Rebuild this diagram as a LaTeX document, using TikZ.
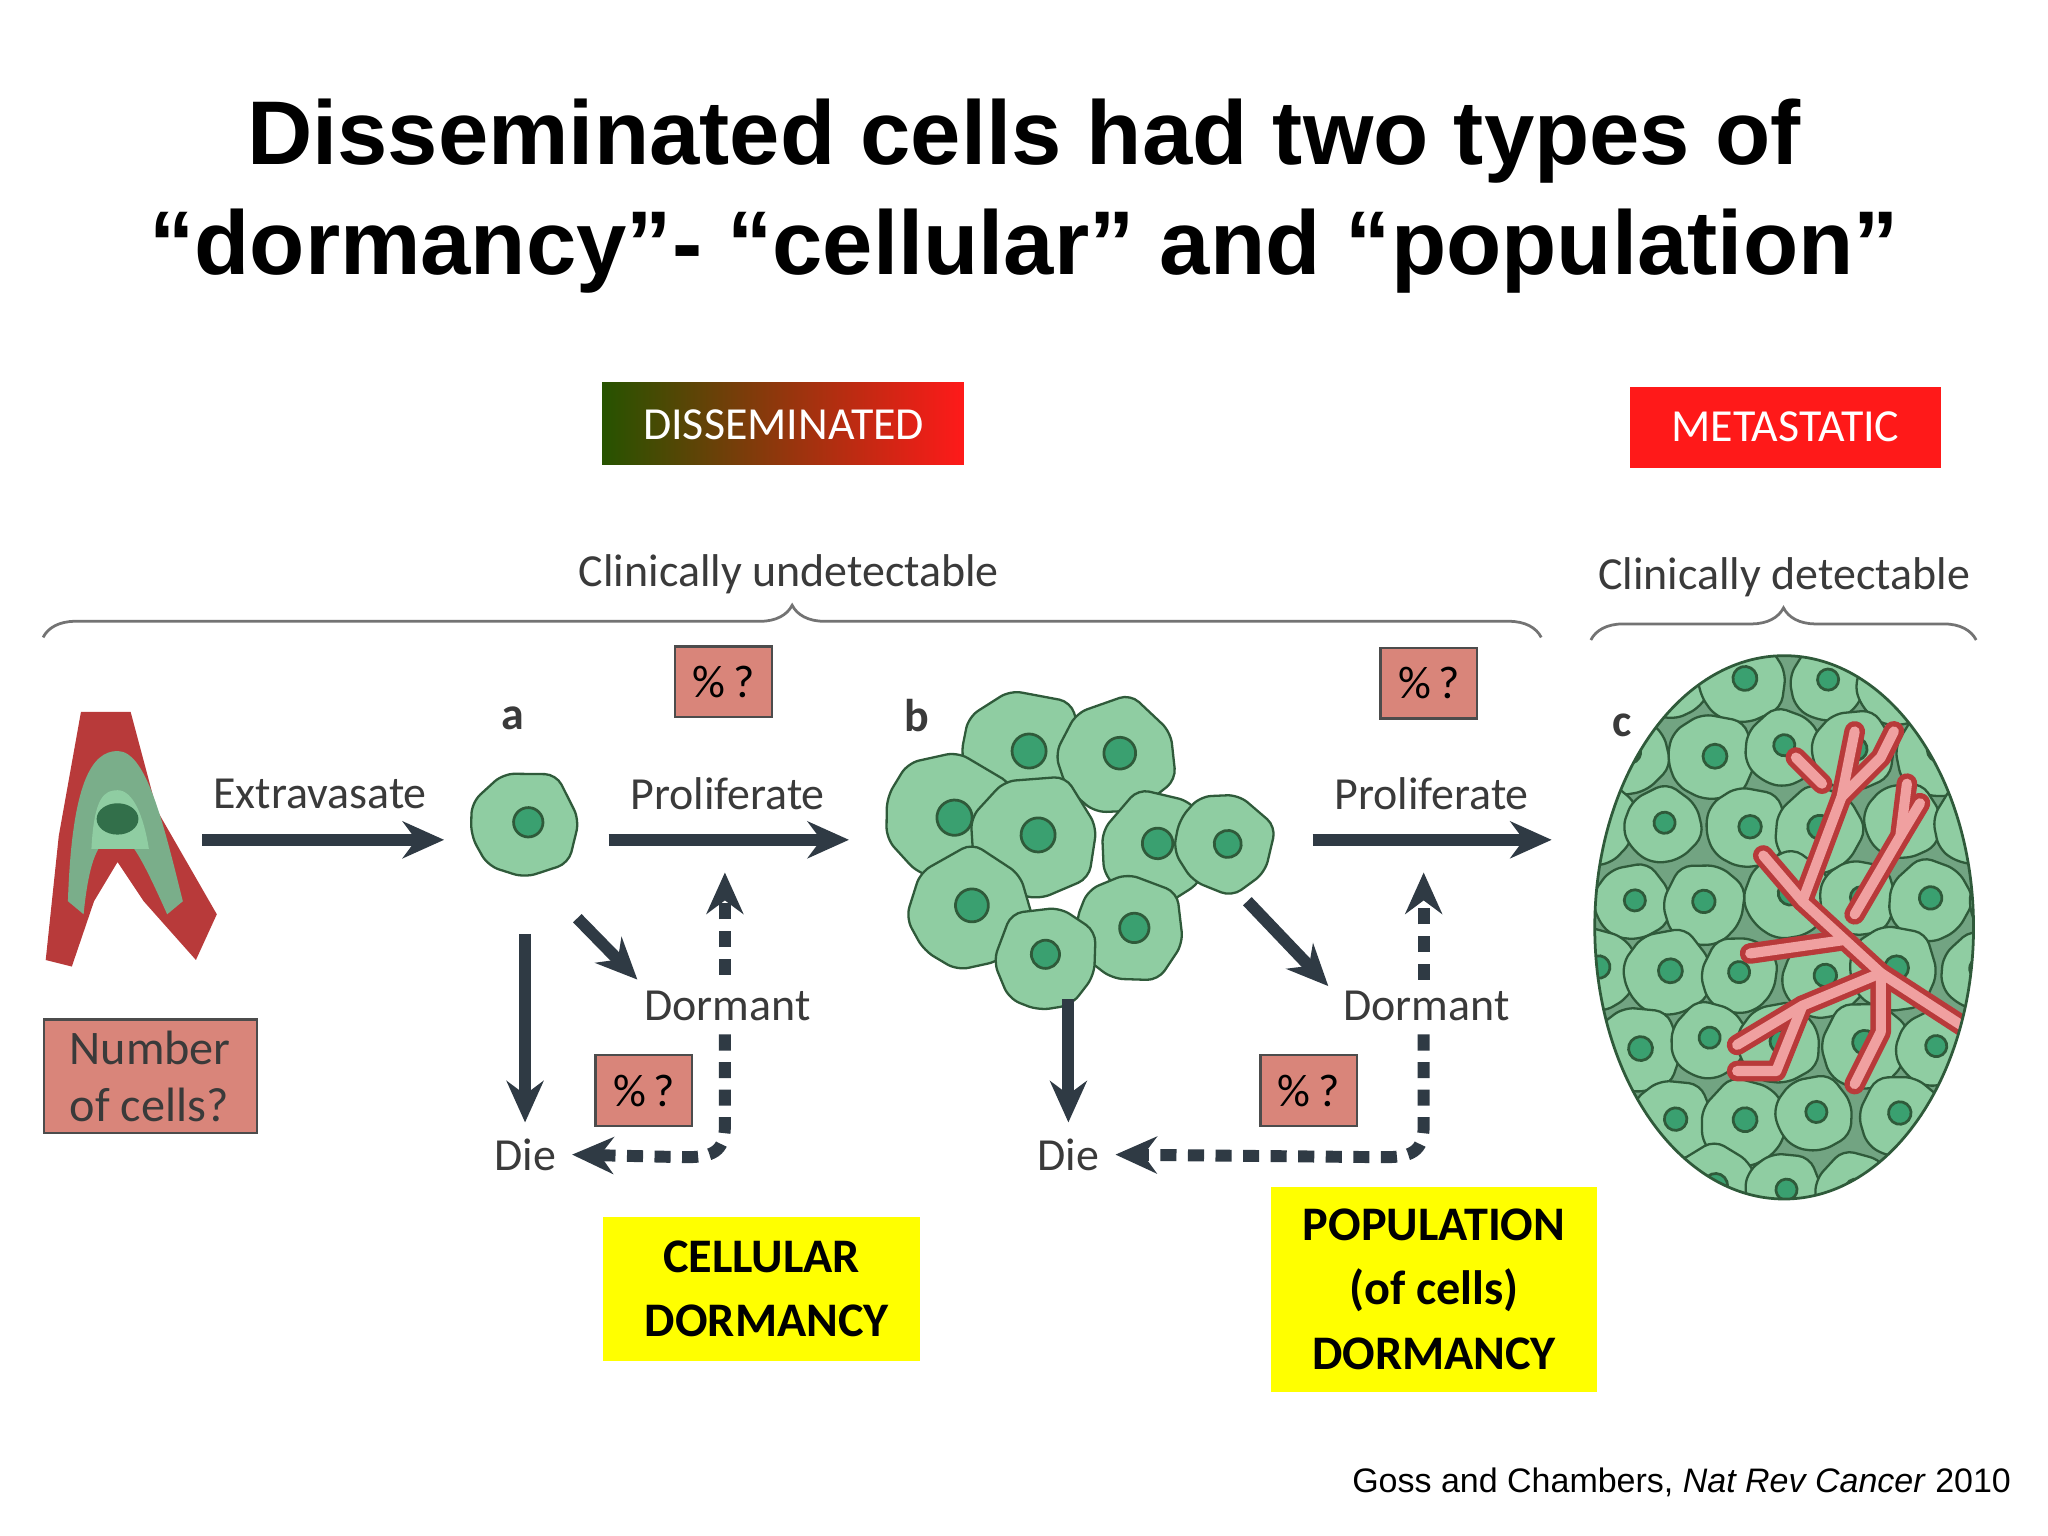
\documentclass[tikz,border=0pt]{standalone}
\usepackage{fontspec}
\setmainfont{Liberation Sans}
\newfontfamily\lab{Carlito}
\usetikzlibrary{arrows.meta,decorations.pathreplacing,shadings}
\definecolor{arr}{HTML}{2F3A44}
\definecolor{pbox}{HTML}{D9857A}
\definecolor{cellg}{HTML}{8FCDA2}
\definecolor{celld}{HTML}{2F5A3A}
\definecolor{nucg}{HTML}{3AA070}
\definecolor{vred}{HTML}{B83A3A}
\definecolor{vpink}{HTML}{F0A0A0}
\definecolor{yel}{HTML}{FFFF00}
\definecolor{txtg}{HTML}{3A3A3A}
\tikzset{
 cellfill/.style={fill=cellg,draw=celld,line width=0.5pt,rounded corners=2.5pt},
 nuc/.style={fill=nucg,draw=celld,line width=0.6pt},
 solidarr/.style={arr,line width=2.6pt,-{Stealth[length=9pt,width=8pt]}},
 dotarr/.style={arr,line width=2.6pt,dash pattern=on 3.5pt off 2.5pt,-{Stealth[length=9pt,width=8pt]}},
 qbox/.style={fill=pbox,draw=black!70,line width=0.5pt,minimum width=0.74cm,minimum height=0.54cm,font=\lab\fontsize{10}{12}\selectfont},
 glab/.style={font=\lab\fontsize{10}{12}\selectfont,text=txtg},
 ybox/.style={fill=yel,align=center,font=\lab\bfseries\fontsize{10.5}{14}\selectfont},
 vessel/.style={draw=vred,line width=4.5pt,line cap=round,line join=round},
 vesselin/.style={draw=vpink,line width=2.2pt,line cap=round,line join=round},
 brc/.style={draw=black!55,line width=0.6pt,decorate,decoration={brace,amplitude=7pt}}
}
\newcommand\gcell[4]{%
\begin{scope}[shift={(#1,#2)},scale=#3,rotate=#4]
\draw[cellfill] (-30,-18)--(-8,-32)--(24,-26)--(33,4)--(22,29)--(-6,33)--(-27,22)--(-34,2)--cycle;
\draw[nuc] (2,0) circle (9);
\end{scope}}
\begin{document}
\begin{tikzpicture}[x=0.01cm,y=-0.01cm]
\useasboundingbox (0,0) rectangle (1568,1176);
\fill[white] (0,0) rectangle (1568,1176);
% title
\node[font=\bfseries\fontsize{19.7}{24}\selectfont,align=center] (title) at (784,150) {Disseminated cells had two types of\\“dormancy”- “cellular” and “population”};
% top boxes
\shade[left color=green!25!black!70!olive,right color=red!90!white] (461,293) rectangle (738,356);
\node[text=white,font=\lab\fontsize{10}{12}\selectfont] (diss) at (600,325) {DISSEMINATED};
\node[fill=red!90!white,minimum width=2.38cm,minimum height=0.62cm,text=white,font=\lab\fontsize{10}{12}\selectfont] (meta) at (1367,327) {METASTATIC};
% braces
\draw[brc] (33,488) -- (1180,488);
\draw[brc] (1218,490) -- (1513,490);
\node[glab] (cu) at (604,440) {Clinically undetectable};
\node[glab] (cd) at (1366,442) {Clinically detectable};
% blood vessel
\fill[vred] (35,735)--(45,640)--(62,545)--(100,545)--(120,620)--(166,700)--(150,735)--(110,690)--(90,660)--(72,690)--(55,740)--cycle;
\fill[cellg!85!black] (52,690)..controls (55,600) and (70,575) .. (90,575) .. controls (112,575) and (125,630) .. (140,690) -- (128,700) .. controls (110,660) and (100,640) .. (90,640) .. controls (75,640) and (68,660) .. (64,700) -- cycle;
\fill[cellg] (70,650)..controls (72,610) and (80,605) .. (90,605) .. controls (102,605) and (110,625) .. (114,650)-- cycle;
\fill[celld!70!nucg] (90,627) ellipse (16 and 12);
% cell a
\gcell{402}{630}{1.25}{10}
\node[font=\lab\bfseries\fontsize{10}{12}\selectfont,text=txtg] (la) at (393,550) {a};
% labels and arrows (a stage)
\coordinate (e1) at (155,643); \coordinate (e2) at (340,643);
\draw[solidarr] (e1) -- (e2);
\node[glab] (extra) at (245,608) {Extravasate};
\coordinate (p1) at (466,643); \coordinate (p2) at (650,643);
\draw[solidarr] (p1) -- (p2);
\node[glab] (prol1) at (557,608) {Proliferate};
\node[qbox] (q1) at (554,522) {\%\,?};
\coordinate (d1) at (402,715);
\node[glab] (die1) at (402,884) {Die};
\draw[solidarr] (d1) -- (die1.north);
\coordinate (g1) at (442,703);
\node[glab] (dorm1) at (557,770) {Dormant};
\draw[solidarr] (g1) -- (488,750);
\draw[dotarr] (dorm1.north -| 555,0) -- (555,668);
\draw[dotarr] (555,792) -- (555,862) .. controls (555,882) and (545,886) .. (525,886) -- (die1.east);
\node[qbox] (q2) at (493,835) {\%\,?};
\node[fill=pbox,draw=black!70,line width=0.5pt,minimum width=1.63cm,minimum height=0.87cm,align=left,inner sep=2pt,font=\lab\fontsize{10.5}{12.5}\selectfont,text=txtg] (num) at (115,824) {Number\\of cells?};
% cluster b
\gcell{785}{575}{1.45}{0}
\gcell{855}{578}{1.35}{30}
\gcell{728}{625}{1.5}{-20}
\gcell{792}{640}{1.45}{15}
\gcell{885}{648}{1.3}{60}
\gcell{938}{645}{1.15}{-30}
\gcell{742}{695}{1.4}{40}
\gcell{866}{710}{1.25}{-10}
\gcell{800}{733}{1.2}{80}
\node[font=\lab\bfseries\fontsize{10}{12}\selectfont,text=txtg] (lb) at (702,548) {b};
% b stage arrows
\coordinate (p3) at (1005,643); \coordinate (p4) at (1188,643);
\draw[solidarr] (p3) -- (p4);
\node[glab] (prol2) at (1096,608) {Proliferate};
\node[qbox] (q3) at (1094,523) {\%\,?};
\coordinate (d2) at (818,765);
\node[glab] (die2) at (818,884) {Die};
\draw[solidarr] (d2) -- (die2.north);
\coordinate (g2) at (955,690);
\node[glab] (dorm2) at (1092,770) {Dormant};
\draw[solidarr] (g2) -- (1017,755);
\draw[dotarr] (1090,750) -- (1090,668);
\draw[dotarr] (1090,792) -- (1090,862) .. controls (1090,882) and (1080,886) .. (1060,886) -- (die2.east);
\node[qbox] (q4) at (1002,835) {\%\,?};
% tumour c
\begin{scope}
\clip (1366,710) ellipse (145 and 208);
\fill[cellg!80!black] (1366,710) ellipse (145 and 208);
\foreach \r in {0,...,7}{
 \foreach \c in {0,...,5}{
  \pgfmathsetmacro\xx{1220+\c*58+mod(\r,2)*29+mod(\r*13+\c*7,11)-5}
  \pgfmathsetmacro\yy{520+\r*56+mod(\r*5+\c*11,9)-4}
  \pgfmathsetmacro\rot{mod(\r*37+\c*53,90)}
  \pgfmathsetmacro\sc{0.9+mod(\r+\c,3)*0.06}
  \gcell{\xx}{\yy}{\sc}{\rot}
 }}
% vessels
\foreach \sty in {vessel,vesselin}{
\draw[\sty] (1548,815) -- (1440,745) -- (1380,690) -- (1350,655);
\draw[\sty] (1380,690) -- (1410,610) -- (1420,560);
\draw[\sty] (1410,610) -- (1440,580) -- (1450,560);
\draw[\sty] (1420,700) -- (1455,640) -- (1460,600);
\draw[\sty] (1455,640) -- (1470,615);
\draw[\sty] (1440,745) -- (1380,770) -- (1330,800);
\draw[\sty] (1380,770) -- (1360,820) -- (1330,820);
\draw[\sty] (1440,745) -- (1440,790) -- (1420,830);
\draw[\sty] (1410,720) -- (1340,730);
\draw[\sty] (1395,600) -- (1375,580);
}
\end{scope}
\draw[celld,line width=0.6pt] (1366,710) ellipse (145 and 208);
\node[font=\lab\bfseries\fontsize{10}{12}\selectfont,text=txtg] (lc) at (1242,555) {c};
% yellow boxes
\node[ybox,minimum width=2.42cm,minimum height=1.1cm] (cell) at (583,987) {CELLULAR\\\ DORMANCY};
\node[ybox,minimum width=2.49cm,minimum height=1.57cm] (pop) at (1098,987) {POPULATION\\(of cells)\\DORMANCY};
% citation
\node[anchor=east,font=\fontsize{7.4}{9}\selectfont] (cit) at (1552,1135) {Goss and Chambers, \textit{Nat Rev Cancer} 2010};
\end{tikzpicture}
\end{document}
